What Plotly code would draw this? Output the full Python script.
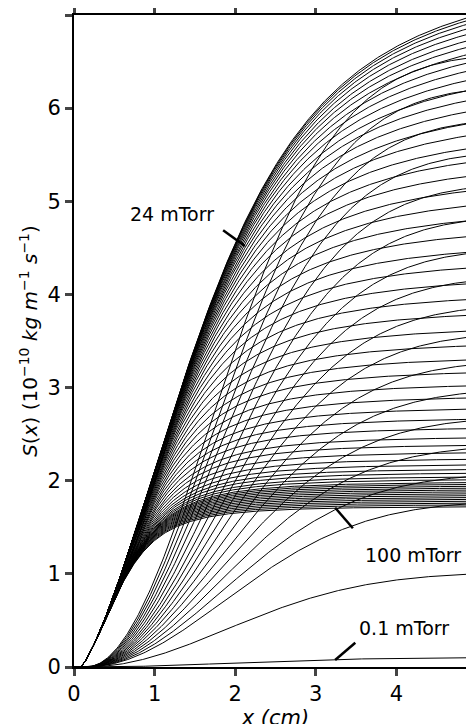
import numpy as np
import plotly.graph_objects as go

# values at x = 5 of the curves that follow the common leading edge
upper_ends = [1.72, 1.74, 1.76, 1.78, 1.80, 1.82, 1.84, 1.86, 1.88, 1.90, 1.92, 1.94,
              1.96, 1.98, 2.01, 2.04, 2.08, 2.12, 2.17, 2.23, 2.30, 2.38, 2.46, 2.56,
              2.66, 2.77, 2.89, 3.02, 3.16, 3.30, 3.45, 3.61, 3.78, 3.95, 4.12, 4.29,
              4.46, 4.63, 4.80, 4.96, 5.12, 5.28, 5.43, 5.58, 5.72, 5.85, 5.98, 6.10,
              6.21, 6.32, 6.42, 6.51, 6.60, 6.68, 6.75, 6.82, 6.88, 6.93, 6.97, 7.00]
# end values at x = 5 of the slowly rising (crossing) curves
fan_ends = [0.10, 1.00, 1.76, 2.05, 2.35, 2.65, 2.95, 3.25, 3.55, 3.85, 4.15, 4.45,
            4.80, 5.15, 5.50, 5.85, 6.20, 6.55]

x = np.linspace(0, 5, 301)
edge = 2.45 * np.clip(x - 0.08, 0, None) ** 1.3


def sat(e, L):
    return e / np.sqrt(1 + (e / L) ** 2)


fig = go.Figure()
for end in upper_ends:
    lo, hi = end, 20.0
    for _ in range(60):
        mid = 0.5 * (lo + hi)
        if sat(edge[-1], mid) < end:
            lo = mid
        else:
            hi = mid
    fig.add_trace(go.Scatter(x=x, y=sat(edge, lo), mode="lines",
                             line=dict(color="black", width=1), hoverinfo="skip"))
for A in fan_ends:
    w = 2.5 - 0.05 * A
    s = 1 - np.exp(-(np.clip(x - 0.15, 0, None) / w) ** 2)
    fig.add_trace(go.Scatter(x=x, y=A * s / s[-1], mode="lines",
                             line=dict(color="black", width=1), hoverinfo="skip"))

labels = [("24 mTorr", 1.22, 4.86, 1.85, 4.69, 2.12, 4.52),
          ("100 mTorr", 4.2, 1.2, 3.24, 1.71, 3.46, 1.49),
          ("0.1 mTorr", 4.1, 0.42, 3.49, 0.26, 3.24, 0.075)]
for text, tx, ty, x0, y0, x1, y1 in labels:
    fig.add_annotation(x=tx, y=ty, text=text, showarrow=False, font=dict(size=19))
    fig.add_shape(type="line", x0=x0, y0=y0, x1=x1, y1=y1, line=dict(color="black", width=2.5))

axis = dict(showgrid=False, zeroline=False, showline=True, linecolor="black", linewidth=2,
            mirror="ticks", ticks="outside", ticklen=7, tickwidth=2.5, dtick=1,
            tickfont=dict(size=21), automargin=False)
fig.update_xaxes(range=[0, 5], title=dict(text="<i>x (cm)</i>", font=dict(size=21), standoff=4), **axis)
fig.update_yaxes(range=[0, 7],
                 title=dict(text="<i>S</i>(<i>x</i>) (10<sup>−10</sup> <i>kg m</i><sup>−1</sup> <i>s</i><sup>−1</sup>)",
                            font=dict(size=20), standoff=4), **axis)
fig.update_layout(width=474, height=724, showlegend=False, plot_bgcolor="white",
                  paper_bgcolor="white", font=dict(family="DejaVu Sans", color="black"),
                  margin=dict(l=66, r=5, t=7, b=65))
fig.write_html("out.html")
